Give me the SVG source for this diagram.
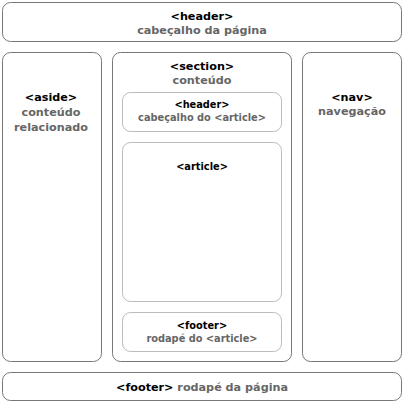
<svg xmlns="http://www.w3.org/2000/svg" width="404" height="404" viewBox="0 0 404 404">
<style>
.outer{fill:#fff;stroke:#777;stroke-width:1}
.inner{fill:#fff;stroke:#bbb;stroke-width:1}
text{font-family:"DejaVu Sans","Liberation Sans",sans-serif;font-weight:bold;text-anchor:middle}
.t{font-size:11.2px;fill:#000}
.s{font-size:11.2px;fill:#666}
.ti{font-size:9.8px;fill:#000}
.si{font-size:9.8px;fill:#666}
</style>
<rect width="404" height="404" fill="#fff"/>
<g id="header">
<rect class="outer" x="2.5" y="2.5" width="399" height="39" rx="8"/>
<text class="t" x="202" y="20">&lt;header&gt;</text>
<text class="s" x="202" y="34">cabeçalho da página</text>
</g>
<g id="aside">
<rect class="outer" x="2.5" y="52.5" width="99" height="309" rx="8"/>
<text class="t" x="51" y="101">&lt;aside&gt;</text>
<text class="s" x="51" y="116">conteúdo</text>
<text class="s" x="51" y="131">relacionado</text>
</g>
<g id="section">
<rect class="outer" x="112.5" y="52.5" width="179" height="309" rx="8"/>
<text class="t" x="202" y="70">&lt;section&gt;</text>
<text class="s" x="202" y="84">conteúdo</text>
</g>
<g id="article-header">
<rect class="inner" x="122.5" y="92.5" width="159" height="39" rx="8"/>
<text class="ti" x="202" y="108">&lt;header&gt;</text>
<text class="si" x="202" y="121">cabeçalho do &lt;article&gt;</text>
</g>
<g id="article">
<rect class="inner" x="122.5" y="142.5" width="159" height="159" rx="8"/>
<text class="ti" x="202" y="170">&lt;article&gt;</text>
</g>
<g id="article-footer">
<rect class="inner" x="122.5" y="312.5" width="159" height="39" rx="8"/>
<text class="ti" x="202" y="329">&lt;footer&gt;</text>
<text class="si" x="202" y="342">rodapé do &lt;article&gt;</text>
</g>
<g id="nav">
<rect class="outer" x="302.5" y="52.5" width="99" height="309" rx="8"/>
<text class="t" x="352" y="101">&lt;nav&gt;</text>
<text class="s" x="352" y="115">navegação</text>
</g>
<g id="footer">
<rect class="outer" x="2.5" y="372.5" width="399" height="28" rx="8"/>
<text class="t" x="202" y="391"><tspan>&lt;footer&gt;</tspan><tspan fill="#666"> rodapé da página</tspan></text>
</g>
<g id="connectors"/>
</svg>
